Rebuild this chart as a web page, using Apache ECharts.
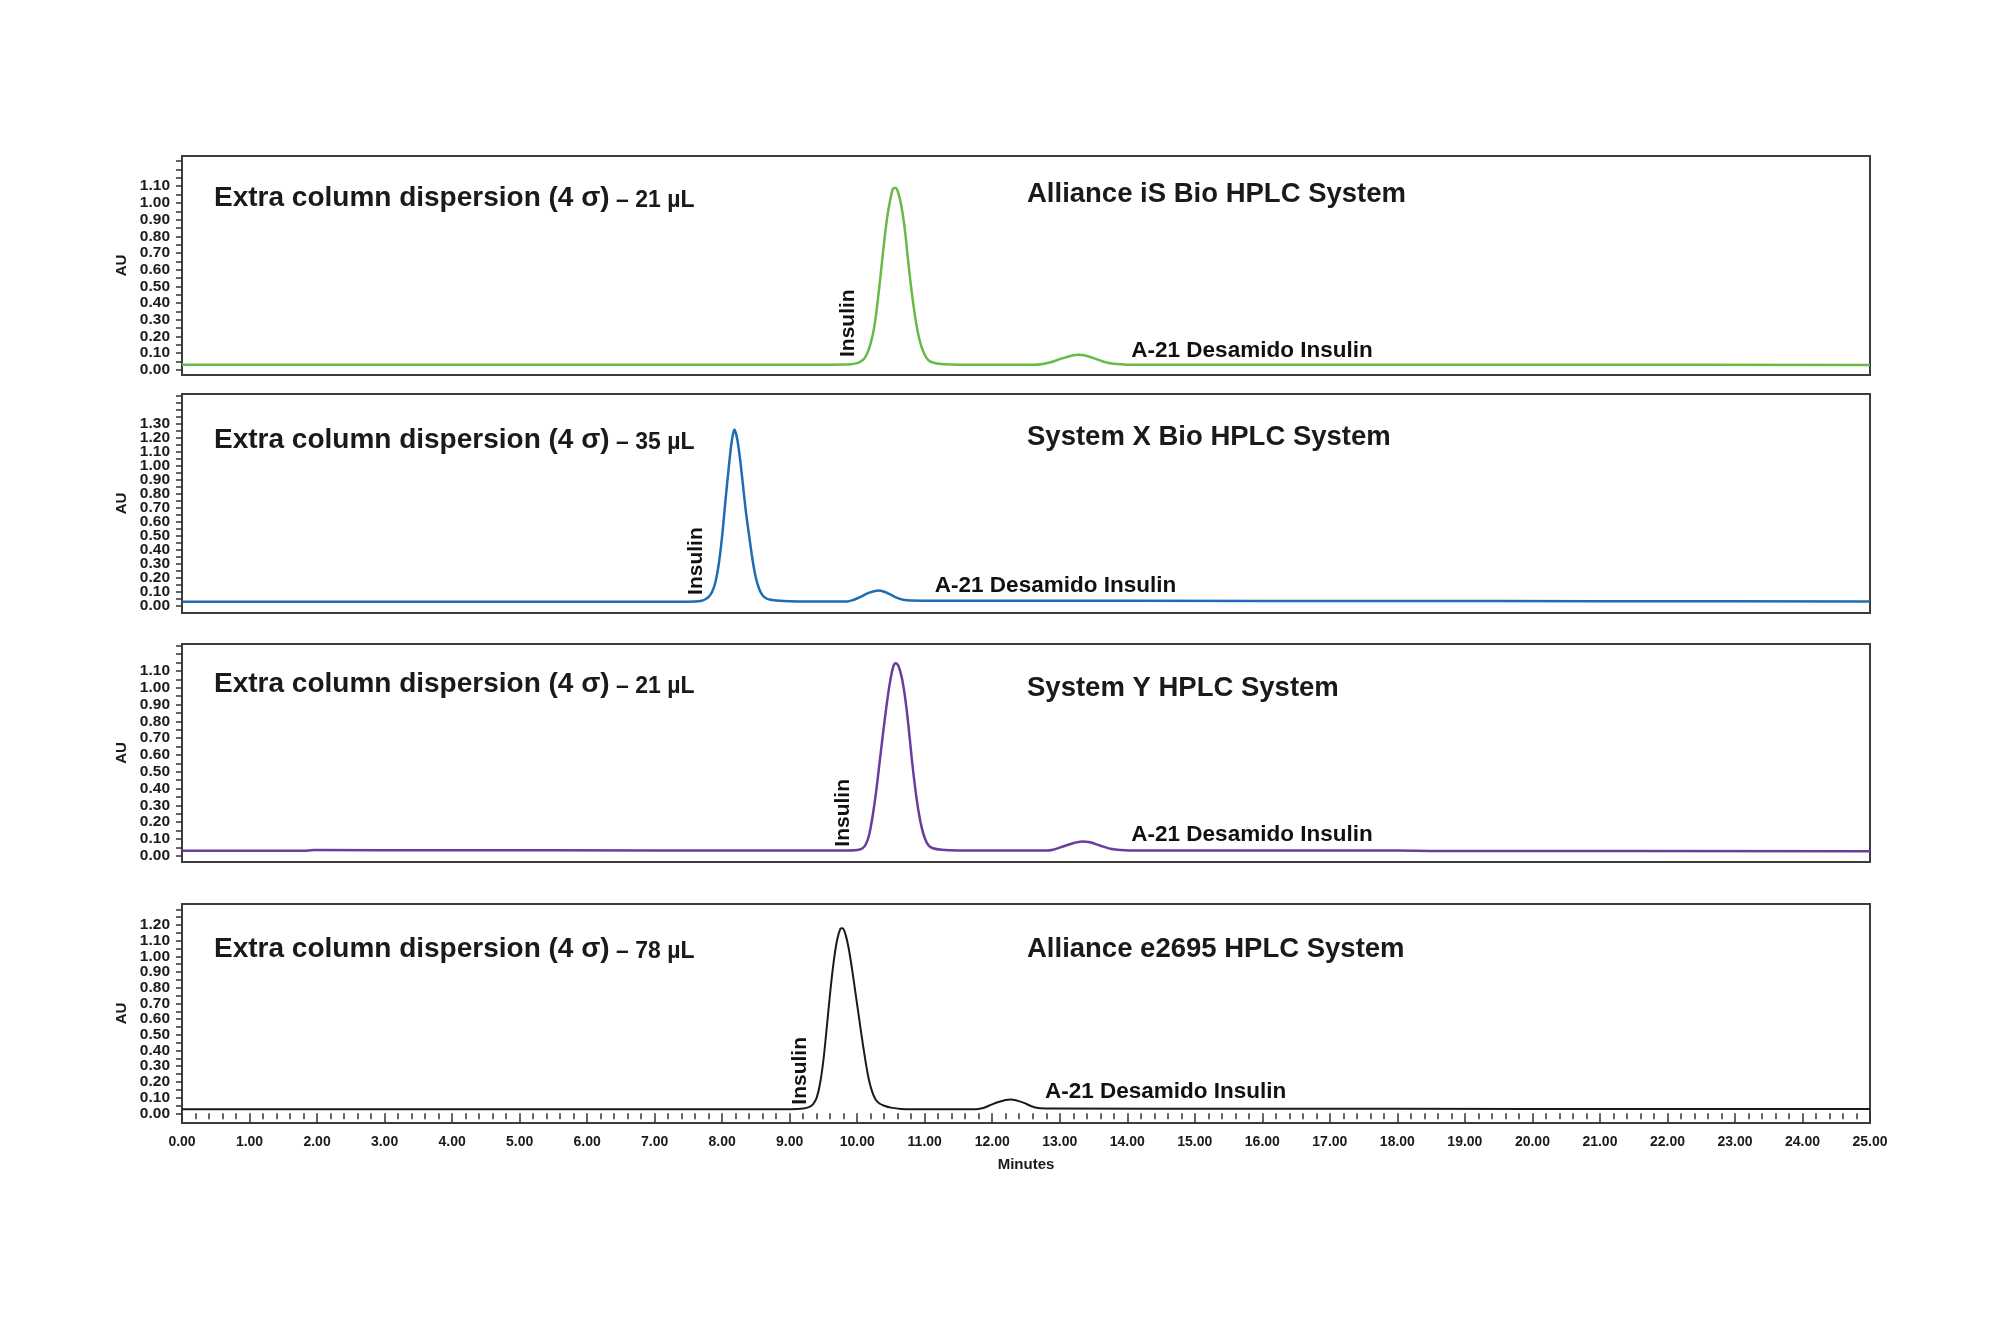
<!DOCTYPE html>
<html>
<head>
<meta charset="utf-8">
<title>Insulin chromatograms - extra column dispersion</title>
<script src="https://cdn.jsdelivr.net/npm/echarts@6/dist/echarts.min.js"></script>
<style>
  html, body { margin: 0; padding: 0; background: #fff; }
  #chart { width: 2000px; height: 1333px; }
</style>
</head>
<body>
<div id="chart"></div>
<script>
// [minutes, AU]
const allianceIsBio = [
  [0, 0.03], [2, 0.031], [4, 0.03], [6, 0.03], [8, 0.03], [9, 0.031], [9.6, 0.031], [9.9, 0.033],
  [10.0, 0.04], [10.05, 0.05], [10.1, 0.065], [10.15, 0.1], [10.2, 0.16], [10.25, 0.25], [10.3, 0.4],
  [10.35, 0.58], [10.4, 0.77], [10.45, 0.93], [10.5, 1.04], [10.53, 1.085], [10.57, 1.09], [10.6, 1.07],
  [10.65, 0.99], [10.7, 0.86], [10.75, 0.67], [10.8, 0.49], [10.85, 0.34], [10.9, 0.22], [10.95, 0.14],
  [11.0, 0.09], [11.05, 0.06], [11.1, 0.047], [11.2, 0.037], [11.4, 0.032], [12.0, 0.03], [12.6, 0.03],
  [12.75, 0.035], [12.9, 0.05], [13.05, 0.07], [13.2, 0.087], [13.28, 0.09], [13.36, 0.087], [13.5, 0.07],
  [13.65, 0.048], [13.8, 0.036], [14.0, 0.031], [16, 0.03], [20, 0.03], [25, 0.029]
];
const systemXBio = [
  [0, 0.03], [3, 0.03], [6, 0.03], [7.3, 0.03], [7.6, 0.032], [7.7, 0.038], [7.75, 0.048], [7.8, 0.065],
  [7.85, 0.1], [7.9, 0.17], [7.95, 0.3], [8.0, 0.5], [8.05, 0.76], [8.1, 1.0], [8.14, 1.17], [8.18, 1.26],
  [8.22, 1.2], [8.26, 1.07], [8.3, 0.9], [8.35, 0.68], [8.4, 0.5], [8.45, 0.33], [8.5, 0.2], [8.55, 0.12],
  [8.6, 0.075], [8.65, 0.055], [8.7, 0.046], [8.8, 0.04], [9.0, 0.034], [9.3, 0.032], [9.85, 0.032],
  [9.95, 0.045], [10.05, 0.065], [10.15, 0.09], [10.25, 0.105], [10.31, 0.11], [10.38, 0.105],
  [10.48, 0.085], [10.58, 0.06], [10.68, 0.045], [10.8, 0.04], [11.5, 0.038], [14, 0.037], [18, 0.036],
  [21, 0.034], [25, 0.033]
];
const systemY = [
  [0, 0.03], [1.8, 0.03], [1.95, 0.034], [4, 0.033], [7, 0.032], [9, 0.031], [9.8, 0.031], [10.0, 0.034],
  [10.08, 0.045], [10.13, 0.07], [10.18, 0.13], [10.23, 0.24], [10.28, 0.38], [10.33, 0.55], [10.38, 0.72],
  [10.43, 0.88], [10.48, 1.02], [10.53, 1.12], [10.57, 1.145], [10.61, 1.13], [10.66, 1.06], [10.71, 0.94],
  [10.76, 0.77], [10.81, 0.57], [10.86, 0.4], [10.91, 0.26], [10.96, 0.16], [11.01, 0.095], [11.06, 0.06],
  [11.12, 0.045], [11.25, 0.036], [11.5, 0.032], [12.8, 0.031], [12.9, 0.036], [13.05, 0.055], [13.2, 0.075],
  [13.33, 0.085], [13.45, 0.08], [13.6, 0.06], [13.75, 0.042], [13.9, 0.034], [14.2, 0.031], [18, 0.031],
  [18.5, 0.029], [25, 0.027]
];
const allianceE2695 = [
  [0, 0.025], [4, 0.025], [8, 0.025], [9.0, 0.026], [9.2, 0.03], [9.3, 0.042], [9.35, 0.06], [9.4, 0.1],
  [9.45, 0.19], [9.5, 0.34], [9.55, 0.55], [9.6, 0.77], [9.65, 0.96], [9.7, 1.1], [9.75, 1.175], [9.78, 1.18],
  [9.82, 1.15], [9.87, 1.06], [9.92, 0.93], [9.97, 0.78], [10.02, 0.63], [10.07, 0.48], [10.12, 0.34],
  [10.17, 0.22], [10.22, 0.14], [10.27, 0.09], [10.33, 0.062], [10.4, 0.048], [10.5, 0.036], [10.65, 0.028],
  [11, 0.025], [11.75, 0.025], [11.85, 0.032], [11.95, 0.048], [12.08, 0.07], [12.2, 0.085], [12.27, 0.088],
  [12.35, 0.083], [12.47, 0.066], [12.58, 0.045], [12.68, 0.033], [12.85, 0.03], [16, 0.029], [20, 0.028],
  [25, 0.027]
];

const traces = [allianceIsBio, systemXBio, systemY, allianceE2695];
const systemNames = ['Alliance iS Bio HPLC System', 'System X Bio HPLC System', 'System Y HPLC System', 'Alliance e2695 HPLC System'];
const dispersionUl = ['21', '35', '21', '78'];
const lineColors = ['#66bb44', '#1c6db4', '#6a3c9c', '#1a1a1a'];

// AU axis: shown range and the last labelled value of each panel
const auMin = [-0.031, -0.05, -0.037, -0.062];
const auMax = [1.281, 1.514, 1.26, 1.334];
const auLabelTop = [1.1, 1.3, 1.1, 1.2];

// where the peak names sit, [minutes, AU]
const insulinAt = [[9.86, 0.077], [7.62, 0.079], [9.79, 0.054], [9.15, 0.055]];
const desamidoAt = [[14.06, 0.113], [11.15, 0.143], [14.06, 0.122], [12.78, 0.137]];

const FONT = 'Arial, "Liberation Sans", Helvetica, sans-serif';
const gridTop = [156, 394, 644, 904];
const gridH = [219, 219, 218, 219];
const titleMid = [[195, 194], [437, 437], [681, 688], [946, 949]];

// values from `start` to `top` every `step`
function steps(start, top, step) {
  const out = [];
  for (let i = 0; start + i * step <= top + 1e-9; i++) out.push(Math.round((start + i * step) * 100) / 100);
  return out;
}

const chart = echarts.init(document.getElementById('chart'));

const grid = [], xAxis = [], yAxis = [], series = [], title = [];

const auLabelStyle = {
  margin: 12, fontSize: 15.5, fontWeight: 'bold', color: '#1a1a1a', fontFamily: FONT,
  showMinLabel: true, showMaxLabel: true,
  formatter: function (v) { return v.toFixed(2); }
};

traces.forEach(function (data, i) {
  const last = i === traces.length - 1;
  grid.push({
    left: 182, right: 130, top: gridTop[i], height: gridH[i],
    show: true, borderColor: '#3c3c3c', borderWidth: 2
  });
  xAxis.push({
    type: 'value', gridIndex: i, min: 0, max: 25, interval: 1,
    show: last, position: 'bottom',
    axisLine: { show: false },
    axisTick: { show: true, inside: false, length: 9, lineStyle: { color: '#333', width: 1.5 } },
    minorTick: { show: true, splitNumber: 5, length: 6, lineStyle: { color: '#333', width: 1.5 } },
    splitLine: { show: false },
    minorSplitLine: { show: false },
    axisLabel: {
      margin: 12, fontSize: 14, fontWeight: 'bold', color: '#1a1a1a', fontFamily: FONT,
      showMinLabel: true, showMaxLabel: true,
      formatter: function (v) { return v.toFixed(2); }
    },
    name: last ? 'Minutes' : '',
    nameLocation: 'middle', nameGap: 34,
    nameTextStyle: { fontSize: 15, fontWeight: 'bold', color: '#1a1a1a', fontFamily: FONT }
  });
  // the dense AU labels are split over two stacked axes (0.00, 0.20 ... and 0.10, 0.30 ...)
  // so that the library does not drop any of them as overlapping
  yAxis.push({
    type: 'value', gridIndex: i, min: auMin[i], max: auMax[i],
    axisLine: { show: false },
    splitLine: { show: false },
    axisTick: {
      show: true, inside: false, length: 6, lineStyle: { color: '#333', width: 1.5 },
      customValues: steps(0, auMax[i], 0.05)
    },
    axisLabel: Object.assign({ customValues: steps(0, auLabelTop[i], 0.2) }, auLabelStyle),
    name: 'AU', nameLocation: 'middle', nameGap: 53, nameRotate: 90,
    nameTextStyle: { fontSize: 15, fontWeight: 'bold', color: '#1a1a1a', fontFamily: FONT }
  });
  yAxis.push({
    type: 'value', gridIndex: i, min: auMin[i], max: auMax[i], position: 'left',
    axisLine: { show: false },
    splitLine: { show: false },
    axisTick: { show: false },
    axisLabel: Object.assign({ customValues: steps(0.1, auLabelTop[i], 0.2) }, auLabelStyle)
  });
  series.push({
    type: 'line', xAxisIndex: i, yAxisIndex: 2 * i,
    data: data, showSymbol: false, smooth: 0.3,
    lineStyle: { color: lineColors[i], width: last ? 2 : 2.5 },
    itemStyle: { color: lineColors[i] },
    markPoint: {
      symbol: 'circle', symbolSize: 0, silent: true,
      data: [
        {
          coord: insulinAt[i],
          label: {
            show: true, formatter: 'Insulin', position: 'inside', rotate: 90,
            align: 'left', verticalAlign: 'middle',
            fontSize: 21, fontWeight: 'bold', color: '#111', fontFamily: FONT
          }
        },
        {
          coord: desamidoAt[i],
          label: {
            show: true, formatter: 'A-21 Desamido Insulin', position: 'inside',
            align: 'left', verticalAlign: 'middle',
            fontSize: 22.5, fontWeight: 'bold', color: '#111', fontFamily: FONT
          }
        }
      ]
    }
  });
  title.push({
    left: 214, top: titleMid[i][0] - 17, padding: 0,
    text: '{a|Extra column dispersion (4 σ)}{b| – ' + dispersionUl[i] + ' µL}',
    textStyle: {
      rich: {
        a: { fontSize: 28, fontWeight: 'bold', color: '#1a1a1a', fontFamily: FONT, lineHeight: 34, verticalAlign: 'bottom' },
        b: { fontSize: 23, fontWeight: 'bold', color: '#1a1a1a', fontFamily: FONT, lineHeight: 30, verticalAlign: 'bottom' }
      }
    }
  });
  title.push({
    left: 1027, top: titleMid[i][1] - 17, padding: 0,
    text: systemNames[i],
    textStyle: { fontSize: 27.5, fontWeight: 'bold', color: '#1a1a1a', fontFamily: FONT, lineHeight: 34 }
  });
});

chart.setOption({
  animation: false,
  backgroundColor: '#fff',
  title: title,
  grid: grid,
  xAxis: xAxis,
  yAxis: yAxis,
  series: series
});
</script>
</body>
</html>
